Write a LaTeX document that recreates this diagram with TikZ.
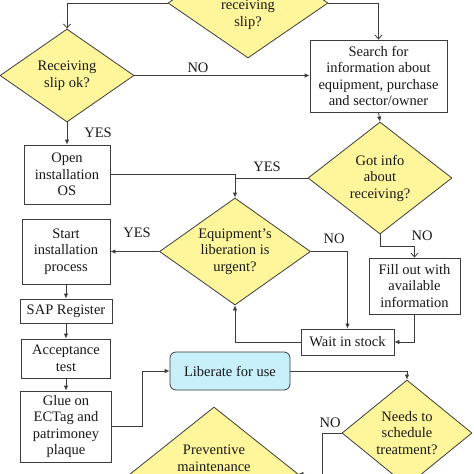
\documentclass[tikz,border=0pt]{standalone}
\usepackage{fontspec}
\setmainfont{Liberation Serif}
\usetikzlibrary{shapes.geometric,arrows.meta}
\definecolor{diayellow}{RGB}{255,246,155}
\definecolor{libcyan}{RGB}{200,240,250}
\definecolor{linegray}{RGB}{60,60,60}
\begin{document}
\begin{tikzpicture}[x=1pt,y=-1pt,
  every node/.style={font=\fontsize{14.5}{16.5}\selectfont, text=black!90},
  box/.style={draw=linegray, line width=0.8pt, fill=white, rectangle, inner sep=0pt, align=center},
  dia/.style={draw=linegray, line width=0.8pt, fill=diayellow, diamond, inner sep=0pt},
  txt/.style={align=center, inner sep=0pt},
  lbl/.style={inner sep=0pt},
  conn/.style={draw=linegray, line width=0.8pt},
  arr/.style={conn, -{Latex[length=5pt,width=4.5pt]}},
  oarr/.style={conn, -{Straight Barb[length=4pt,width=7pt]}}
]
\useasboundingbox (0,0) rectangle (474,474);
\clip (0,0) rectangle (474,474);

% diamonds
\node[dia, minimum width=160, minimum height=110] (top) at (248,3) {};
\node[txt] (topt) at (248,14.5) {receiving\\slip?};
\node[dia, minimum width=134, minimum height=93] (rcv) at (67,75.5) {};
\node[txt] (rcvt) at (rcv) {Receiving\\slip ok?};
\node[dia, minimum width=144, minimum height=112] (got) at (380,178) {};
\node[txt] (gott) at (got) {Got info\\about\\receiving?};
\node[dia, minimum width=151, minimum height=107] (equip) at (235,251.5) {};
\node[txt] (equipt) at (equip) {Equipment's\\liberation is\\urgent?};
\node[dia, minimum width=130, minimum height=106] (needs) at (407,433) {};
\node[txt] (needst) at (needs) {Needs to\\schedule\\treatment?};
\node[dia, minimum width=168, minimum height=134] (prev) at (214,474) {};
\node[txt] (prevt) at (214,458.5) {Preventive\\maintenance};

% boxes
\node[box, minimum width=137, minimum height=72] (search) at (378.5,76) {Search for\\information about\\equipment, purchase\\and sector/owner};
\node[box, minimum width=86, minimum height=59] (open) at (67,174.5) {Open\\installation\\OS};
\node[box, minimum width=88, minimum height=65] (start) at (66,251.5) {Start\\installation\\process};
\node[box, minimum width=92, minimum height=24] (sap) at (66,311) {SAP Register};
\node[box, minimum width=89, minimum height=39] (accept) at (66,358.5) {Acceptance\\test};
\node[box, minimum width=91, minimum height=71] (glue) at (66,426.5) {Glue on\\ECTag and\\patrimoney\\plaque};
\node[box, minimum width=91, minimum height=56] (fill) at (414.5,286) {Fill out with\\available\\information};
\node[box, minimum width=93, minimum height=26] (wait) at (347.5,342) {Wait in stock};
\node[box, fill=libcyan, rounded corners=6pt, minimum width=120, minimum height=38] (lib) at (230,371) {Liberate for use};

% connectors
\draw[oarr] (top.west) -| (rcv.north);
\draw[oarr] (top.east) -| (search.north);
\draw[arr] (rcv.east) -- (rcv.east -| search.west);
\node[lbl] (no1) at (198,68) {NO};
\draw[arr] (rcv.south) -- (open.north);
\node[lbl] (yes1) at (98,133) {YES};
\draw[arr] (search.south) -- (got.north);
\draw[conn] (got.west) -- (equip.north |- got.west);
\node[lbl] (yes2) at (267,167) {YES};
\draw[arr] (open.east) -| (equip.north);
\coordinate (gotbend) at (380,246);
\draw[oarr] (got.south) -- (gotbend) -| (fill.north);
\node[lbl] (no2) at (422,236) {NO};
\draw[arr] (equip.east) -| (wait.north);
\node[lbl] (no3) at (334,239) {NO};
\draw[arr] (fill.south) |- (wait.east);
\draw[arr] (wait.west) -| (equip.south);
\draw[arr] (equip.west) -- (start.east);
\node[lbl] (yes3) at (137,233) {YES};
\draw[arr] (start.south) -- (sap.north);
\draw[arr] (sap.south) -- (accept.north);
\draw[arr] (accept.south) -- (glue.north);
\coordinate (gluebend) at (142,426.5);
\draw[arr] (glue.east) -- (gluebend) |- (lib.west);
\draw[arr] (lib.east) -| (needs.north);
\coordinate (needsbend) at (322,433);
\draw[arr] (needs.west) -- (needsbend) |- (prev.east);
\node[lbl] (no4) at (330,423) {NO};
\end{tikzpicture}
\end{document}
